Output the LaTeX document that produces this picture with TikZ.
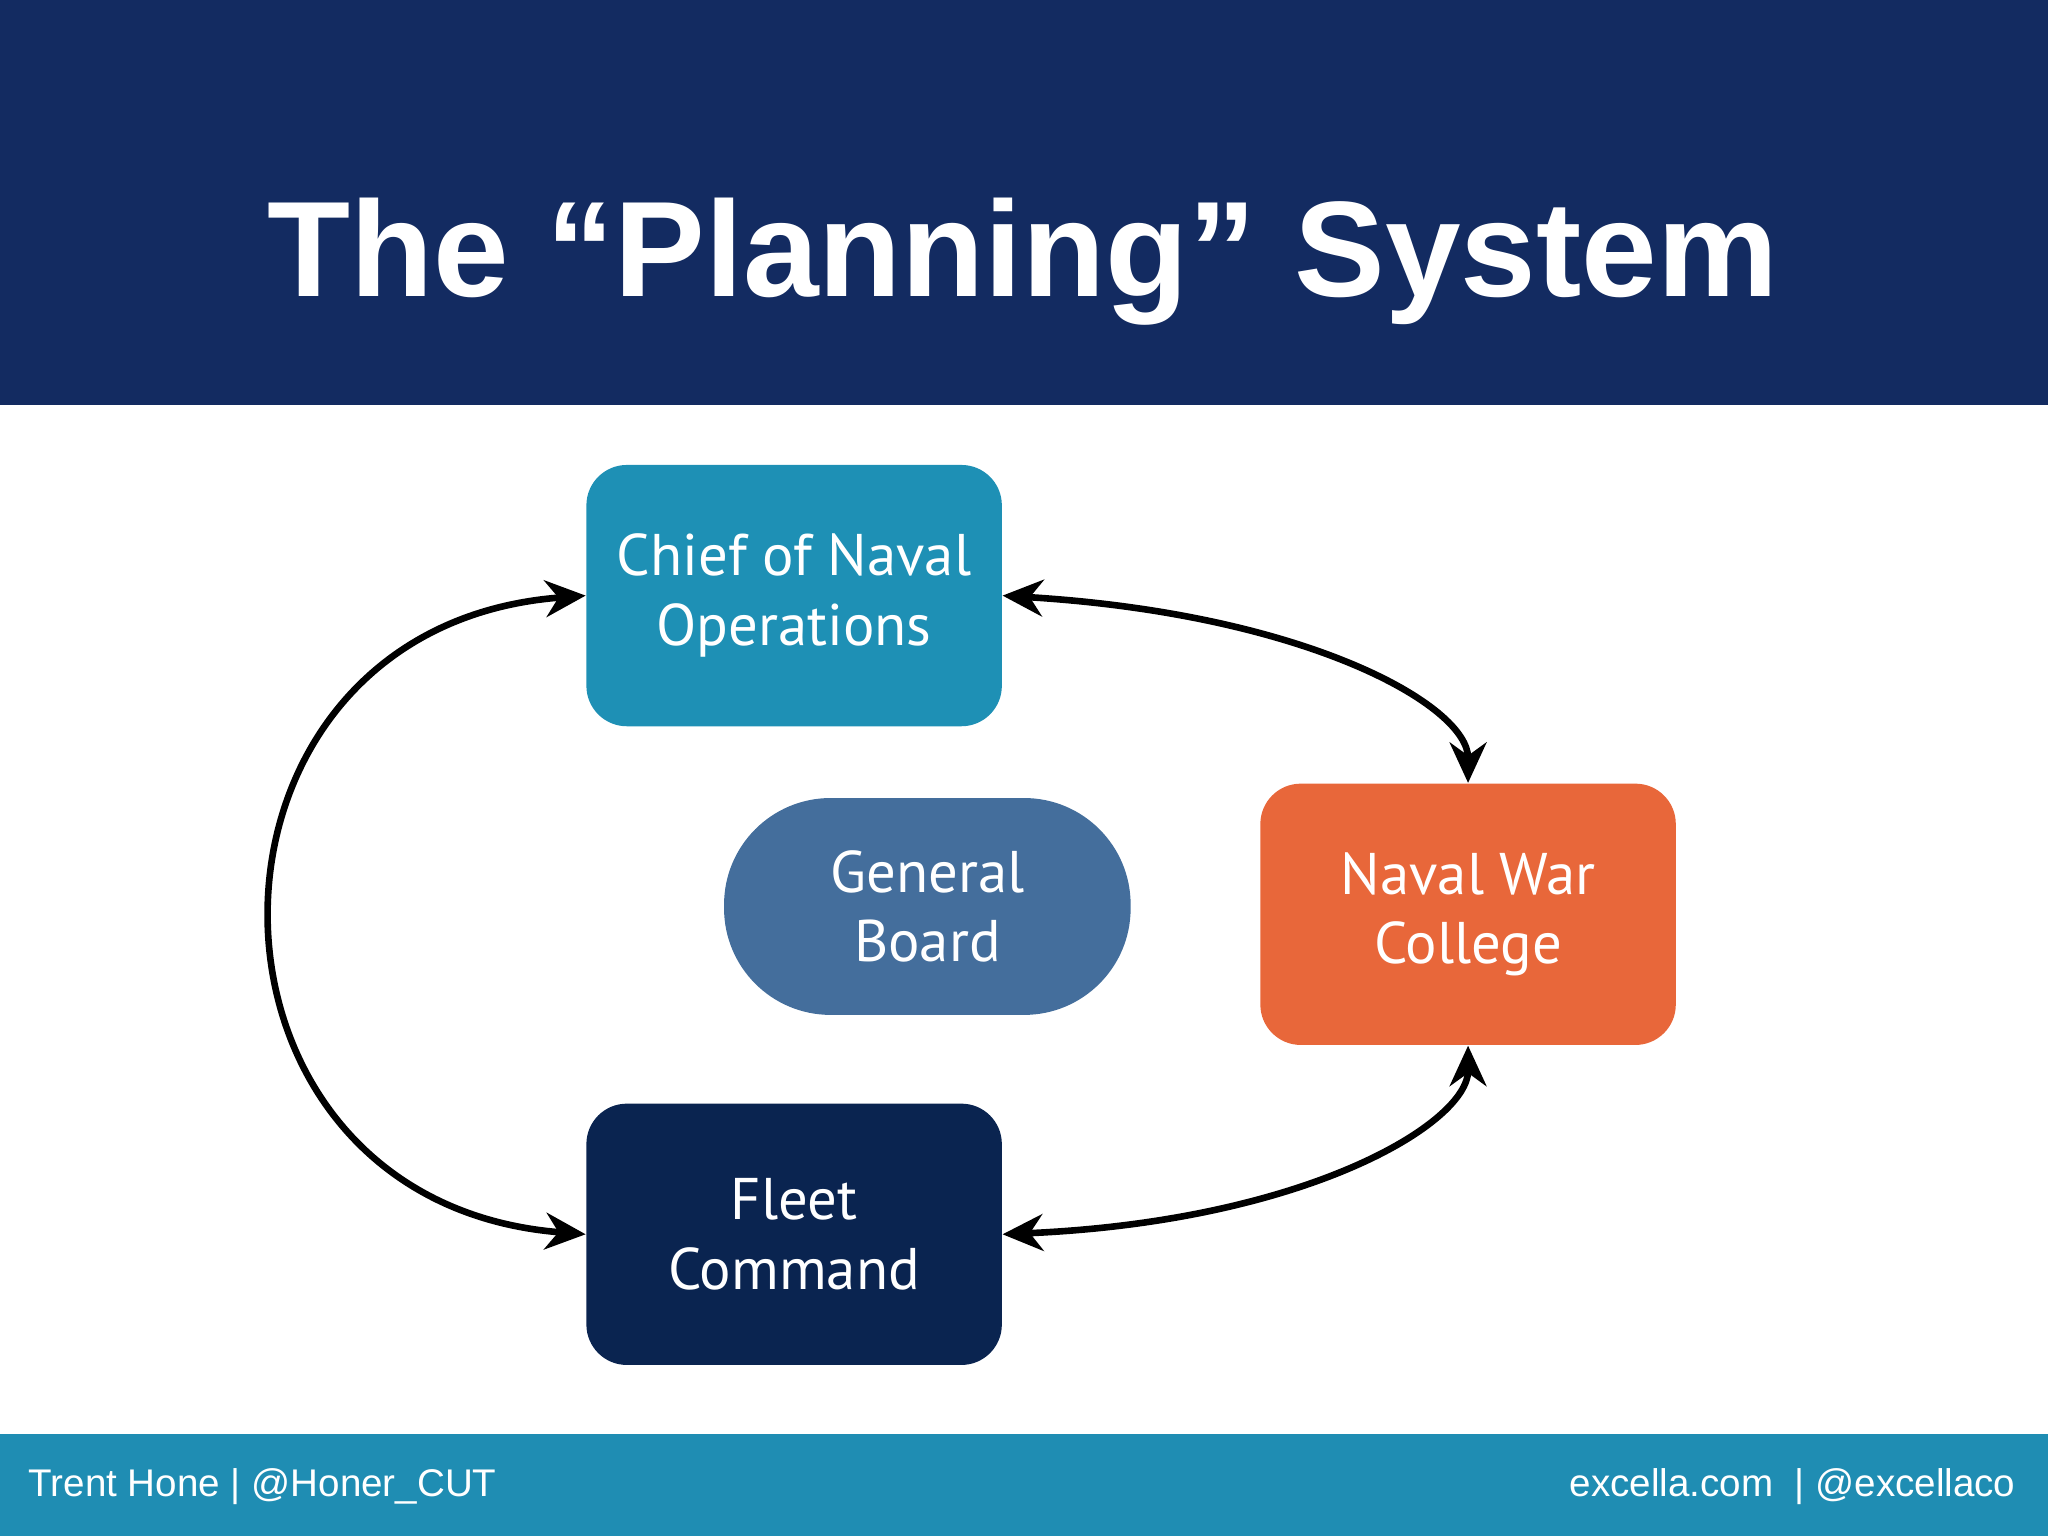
\documentclass[tikz,border=0pt]{standalone}
\usepackage{fontspec}
\setmainfont{Liberation Sans}
\newfontfamily\boxfont{PT Sans}
\usetikzlibrary{arrows.meta}
\definecolor{navyband}{HTML}{132B61}
\definecolor{footband}{HTML}{1F8DB3}
\definecolor{cnoblue}{HTML}{1E90B5}
\definecolor{boardblue}{HTML}{446E9C}
\definecolor{warorange}{HTML}{E8673A}
\definecolor{fleetnavy}{HTML}{0A2450}
\tikzset{
  unit/.style={rounded corners=11pt, minimum width=3.975cm, minimum height=2.5cm,
    text=white, align=center, font=\boxfont\fontsize{16}{19}\selectfont, inner sep=0pt},
  link/.style={line width=1.8pt, {Stealth[length=11pt,width=10pt]}-{Stealth[length=11pt,width=10pt]}}
}
\begin{document}
\begin{tikzpicture}[x=0.0125cm,y=-0.0125cm]
  \useasboundingbox (0,0) rectangle (1568,1176);
  % bands
  \fill[navyband] (0,0) rectangle (1568,310);
  \fill[footband] (0,1098) rectangle (1568,1176);
  \node[text=white, font=\bfseries\fontsize{37}{40}\selectfont] (title) at (783,200) {The “Planning” System};
  \node[text=white, anchor=west, font=\fontsize{10.5}{12}\selectfont] (author) at (12,1138) {Trent Hone | @Honer\_CUT};
  \node[text=white, anchor=east, font=\fontsize{10.5}{12}\selectfont] (site) at (1553,1138) {excella.com ~| @excellaco};
  % units
  \node[unit, fill=cnoblue] (cno) at (608,456) {Chief of Naval\\Operations};
  \node[unit, fill=warorange] (nwc) at (1124,700) {Naval War\\College};
  \node[unit, fill=fleetnavy] (fleet) at (608,945) {Fleet\\Command};
  \node[unit, fill=boardblue, rounded corners=29pt, minimum width=3.89cm, minimum height=2.075cm] (board) at (710,694) {General\\Board};
  % links
  \draw[link] (cno.west) .. controls (130,480) and (130,920) .. (fleet.west);
  \draw[link] (cno.east) .. controls (1000,470) and (1124,540) .. (nwc.north);
  \draw[link] (fleet.east) .. controls (1000,935) and (1124,860) .. (nwc.south);
\end{tikzpicture}
\end{document}
